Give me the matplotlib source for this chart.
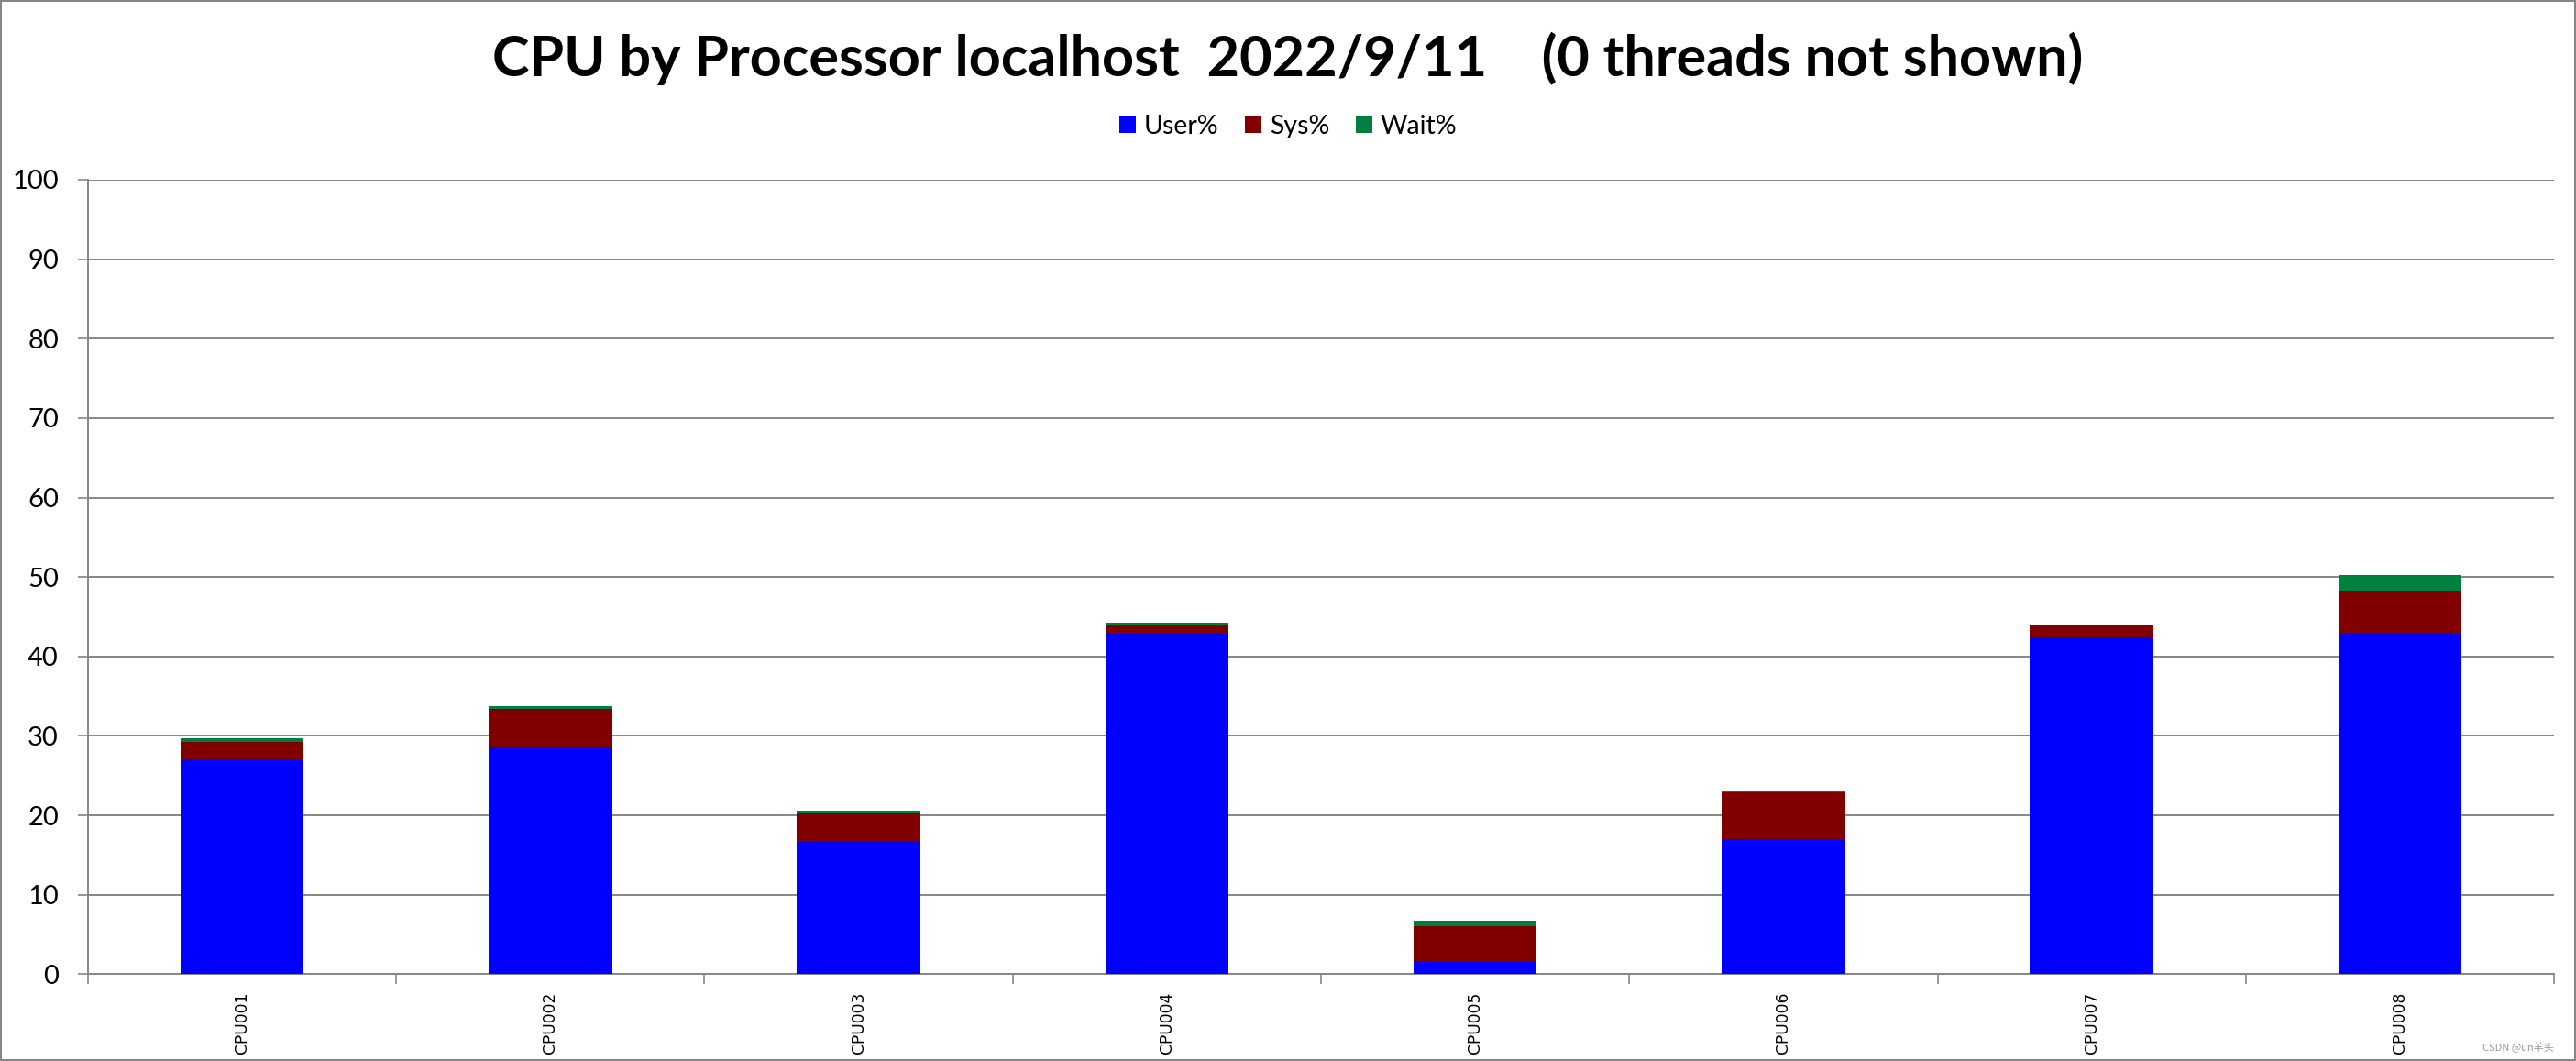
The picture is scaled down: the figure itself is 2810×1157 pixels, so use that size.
import matplotlib.pyplot as plt
import numpy as np
from matplotlib.patches import Rectangle

cpus = ["CPU001", "CPU002", "CPU003", "CPU004", "CPU005", "CPU006", "CPU007", "CPU008"]
user_pct = [27.0, 28.55, 16.7, 42.9, 1.55, 17.0, 42.45, 42.85]
sys_pct = [2.25, 4.85, 3.5, 1.0, 4.5, 5.95, 1.4, 5.35]
wait_pct = [0.45, 0.35, 0.4, 0.35, 0.7, 0.1, 0.1, 2.1]

title = "CPU by Processor localhost  2022/9/11    (0 threads not shown)"

GRID = "#868686"
LABEL_FONT = ["Lato", "DejaVu Sans"]

fig = plt.figure(figsize=(28.10, 11.57), dpi=100)
ax = fig.add_axes([0.0341, 0.0818, 0.9574, 0.7488])

x = np.arange(len(cpus))
user = np.array(user_pct)
sys_ = np.array(sys_pct)
wait = np.array(wait_pct)

b1 = ax.bar(x, user, width=0.4, color="#0000ff", label="User%", zorder=3)
b2 = ax.bar(x, sys_, width=0.4, bottom=user, color="#800000", label="Sys%", zorder=3)
b3 = ax.bar(x, wait, width=0.4, bottom=user + sys_, color="#00803f", label="Wait%", zorder=3)

ax.set_xlim(-0.5, len(cpus) - 0.5)
ax.set_ylim(0, 100)
ax.set_yticks(range(0, 101, 10))
ax.set_yticklabels([str(v) for v in range(0, 101, 10)], fontsize=21, family=LABEL_FONT)
ax.yaxis.grid(True, color=GRID, linewidth=1.4, zorder=0)
ax.tick_params(axis="y", length=8, width=1.2, color=GRID, pad=15)

# category labels in the middle, ticks on the boundaries
ax.set_xticks(x)
ax.set_xticklabels(cpus, rotation=90, fontsize=12.3, family="DejaVu Sans")
ax.tick_params(axis="x", which="major", length=0, pad=14)
ax.set_xticks(np.arange(-0.5, len(cpus), 1.0), minor=True)
ax.tick_params(axis="x", which="minor", length=8, width=1.2, color=GRID)

for side in ["top", "right"]:
    ax.spines[side].set_visible(False)
for side in ["left", "bottom"]:
    ax.spines[side].set_color(GRID)
    ax.spines[side].set_linewidth(1.4)

fig.text(0.5, 0.945, title, ha="center", va="center", fontsize=44,
         fontweight="bold", family=LABEL_FONT)

fig.legend(handles=[b1, b2, b3], loc="center", bbox_to_anchor=(0.5, 0.881),
           ncol=3, frameon=False, prop={"family": LABEL_FONT, "size": 20.5},
           handlelength=0.65, handleheight=0.65, handletextpad=0.3, columnspacing=1.0)

fig.text(0.9915, 0.0128, "CSDN @un羊头", ha="right", va="center", fontsize=8,
         color="#999999", family=["Noto Sans CJK SC", "DejaVu Sans"])

# thin grey frame round the whole chart
fig.patches.append(Rectangle((0.0005, 0.001), 0.999, 0.998, transform=fig.transFigure,
                             fill=False, edgecolor=GRID, linewidth=1.5))

fig.savefig("out.png", dpi=100)
